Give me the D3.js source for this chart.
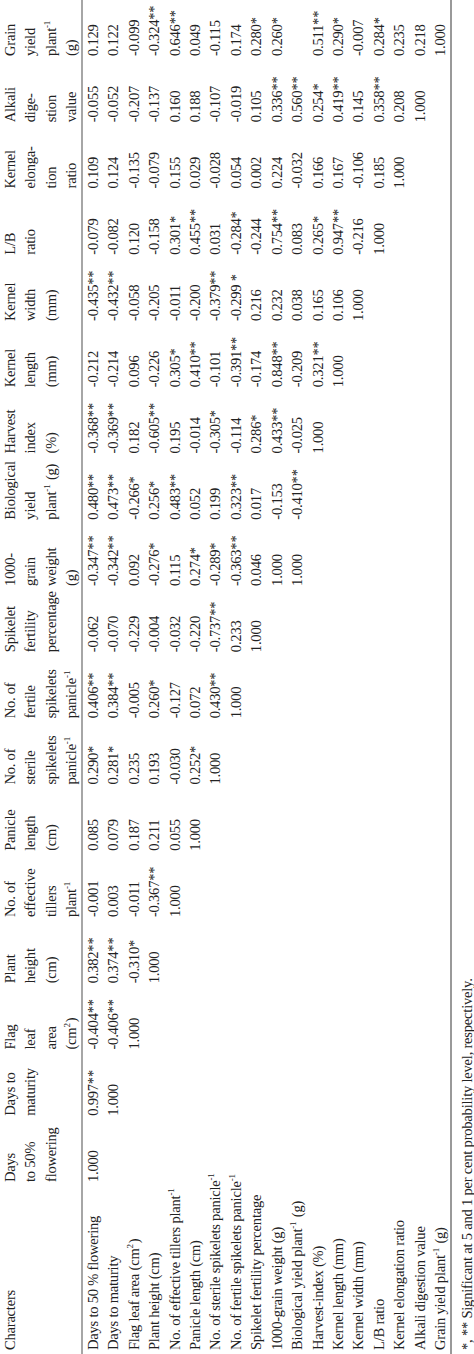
<!DOCTYPE html>
<html><head><meta charset="utf-8">
<script src="https://cdn.jsdelivr.net/npm/d3@7/dist/d3.min.js"></script>
<style>body{margin:0;background:#fff}svg{display:block}text{font-family:"Liberation Serif","Times New Roman",serif;font-size:14.5px;fill:#222;letter-spacing:-0.2px}</style>
</head><body><svg id="c" width="474" height="1354"></svg>
<script>
const rowLabels=["Days to 50 % flowering","Days to maturity","Flag leaf area (cm^2)","Plant height (cm)","No. of effective tillers plant^-1","Panicle length (cm)","No. of sterile spikelets panicle^-1","No. of fertile spikelets panicle^-1","Spikelet fertility percentage","1000-grain weight (g)","Biological yield plant^-1 (g)","Harvest-index (%)","Kernel length (mm)","Kernel width (mm)","L/B ratio","Kernel elongation ratio","Alkali digestion value","Grain yield plant^-1 (g)"];
const colHeaders=[["Days","to 50%","flowering"],["Days to","maturity"],["Flag","leaf","area","(cm^2)"],["Plant","height","(cm)"],["No. of","effective","tillers","plant^-1"],["Panicle","length","(cm)"],["No. of","sterile","spikelets","panicle^-1"],["No. of","fertile","spikelets","panicle^-1"],["Spikelet","fertility","percentage"],["1000-","grain","weight","(g)"],["Biological","yield","plant^-1 (g)"],["Harvest","index","(%)"],["Kernel","length","(mm)"],["Kernel","width","(mm)"],["L/B","ratio"],["Kernel","elonga-","tion","ratio"],["Alkali","dige-","stion","value"],["Grain","yield","plant^-1","(g)"]];
const c0=["1.000"];
const c1=["0.997**","1.000"];
const c2=["-0.404**","-0.406**","1.000"];
const c3=["0.382**","0.374**","-0.310*","1.000"];
const c4=["-0.001","0.003","-0.011","-0.367**","1.000"];
const c5=["0.085","0.079","0.187","0.211","0.055","1.000"];
const c6=["0.290*","0.281*","0.235","0.193","-0.030","0.252*","1.000"];
const c7=["0.406**","0.384**","-0.005","0.260*","-0.127","0.072","0.430**","1.000"];
const c8=["-0.062","-0.070","-0.229","-0.004","-0.032","-0.220","-0.737**","0.233","1.000"];
const c9=["-0.347**","-0.342**","0.092","-0.276*","0.115","0.274*","-0.289*","-0.363**","0.046","1.000","1.000"];
const c10=["0.480**","0.473**","-0.266*","0.256*","0.483**","0.052","0.199","0.323**","0.017","-0.153","-0.410**"];
const c11=["-0.368**","-0.369**","0.182","-0.605**","0.195","-0.014","-0.305*","-0.114","0.286*","0.433**","-0.025","1.000"];
const c12=["-0.212","-0.214","0.096","-0.226","0.305*","0.410**","-0.101","-0.391**","-0.174","0.848**","-0.209","0.321**","1.000"];
const c13=["-0.435**","-0.432**","-0.058","-0.205","-0.011","-0.200","-0.379**","-0.299 *","0.216","0.232","0.038","0.165","0.106","1.000"];
const c14=["-0.079","-0.082","0.120","-0.158","0.301*","0.455**","0.031","-0.284*","-0.244","0.754**","0.083","0.265*","0.947**","-0.216","1.000"];
const c15=["0.109","0.124","-0.135","-0.079","0.155","0.029","-0.028","0.054","0.002","0.224","-0.032","0.166","0.167","-0.106","0.185","1.000"];
const c16=["-0.055","-0.052","-0.207","-0.137","0.160","0.188","-0.107","-0.019","0.105","0.336**","0.560**","0.254*","0.419**","0.145","0.358**","0.208","1.000"];
const c17=["0.129","0.122","-0.099","-0.324**","0.646**","0.049","-0.115","0.174","0.280*","0.260*","","0.511**","0.290*","-0.007","0.284*","0.235","0.218","1.000"];
const columns=[c0,c1,c2,c3,c4,c5,c6,c7,c8,c9,c10,c11,c12,c13,c14,c15,c16,c17];
const footnote="*, ** Significant at 5 and 1 per cent probability level, respectively.";

const svg=d3.select("#c");
const g=svg.append("g").attr("transform","translate(0,1354) rotate(-90)");
const x=d3.scaleLinear().domain([0,17]).range([172,1298]);
const y=d3.scaleLinear().domain([0,17]).range([98,445]);
const hy=d3.scaleLinear().domain([0,3]).range([15,76]);

function rich(sel,str){
  const parts=str.split(/(\^\{?[-0-9]+\}?)/);
  parts.forEach(p=>{
    if(p.startsWith("^")){
      sel.append("tspan").attr("dy",-6).style("font-size","9px").text(p.replace(/[\^{}]/g,""));
      sel.append("tspan").attr("dy",6).text("\u200A");
    } else if(p) sel.append("tspan").text(p);
  });
}
g.append("line").attr("x1",0).attr("x2",1354).attr("y1",82).attr("y2",82).attr("stroke","#888").attr("stroke-width",1.5);
g.append("line").attr("x1",0).attr("x2",1354).attr("y1",451).attr("y2",451).attr("stroke","#999").attr("stroke-width",2);
g.append("text").attr("x",4).attr("y",hy(0)).text("Characters");
colHeaders.forEach((lines,j)=>{
  lines.forEach((l,k)=>{ rich(g.append("text").attr("x",x(j)).attr("y",hy(k)),l); });
});
rowLabels.forEach((l,i)=>{ rich(g.append("text").attr("x",4).attr("y",y(i)),l); });
columns.forEach((col,j)=>{
  g.selectAll(null).data(col).join("text").attr("x",x(j)).attr("y",(d,i)=>y(i)).text(d=>d);
});
g.append("text").attr("x",4).attr("y",472).text(footnote);
</script></body></html>
